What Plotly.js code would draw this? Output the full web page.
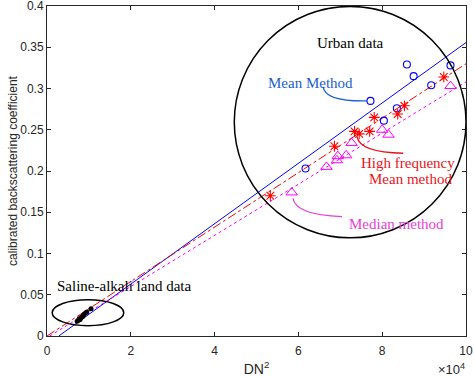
<!DOCTYPE html>
<html>
<head>
<meta charset="utf-8">
<script src="https://cdn.plot.ly/plotly-3.0.1.min.js"></script>
<style>html,body{margin:0;padding:0;background:#fff;}#chart{width:474px;height:377px;}</style>
</head>
<body>
<div id="chart"></div>
<script>
// x values are DN^2 in units of 10^4
var meanX = [8.59, 8.75, 9.63, 9.17, 7.72, 8.35, 8.04, 6.17];
var meanY = [0.329, 0.315, 0.328, 0.304, 0.285, 0.276, 0.261, 0.203];

var hfX = [9.47, 8.53, 8.37, 7.81, 7.70, 7.34, 7.45, 6.86, 5.33];
var hfY = [0.314, 0.279, 0.269, 0.265, 0.248, 0.248, 0.245, 0.230, 0.170];

var medX = [9.63, 8.00, 8.15, 7.27, 7.14, 6.94, 6.92, 6.67, 5.84];
var medY = [0.303, 0.250, 0.244, 0.234, 0.219, 0.218, 0.213, 0.205, 0.174];

var salX = [0.72, 0.75, 0.77, 0.79, 0.81, 0.83, 0.86, 0.88, 0.92, 0.95, 1.05];
var salY = [0.018, 0.019, 0.021, 0.020, 0.022, 0.023, 0.024, 0.026, 0.028, 0.029, 0.033];

// fitted lines: [slope, intercept]
var meanFit = [0.0366, -0.0103];
var hfFit = [0.0330, 0.0];
var medFit = [0.0310, -0.0020];

var xTicks = [0, 2, 4, 6, 8, 10];
var yTicks = [0, 0.05, 0.1, 0.15, 0.2, 0.25, 0.3, 0.35, 0.4];

function fitLine(f) {
  var x0 = Math.max(0, -f[1] / f[0]);
  var xs = [x0, 10];
  return {x: xs, y: xs.map(function (v) { return f[0] * v + f[1]; })};
}
var lm = fitLine(meanFit), lh = fitLine(hfFit), ld = fitLine(medFit);

var traces = [
  {x: lm.x, y: lm.y, mode: 'lines', line: {color: '#0000ff', width: 1}, hoverinfo: 'skip'},
  {x: lh.x, y: lh.y, mode: 'lines', line: {color: '#ff0000', width: 1, dash: 'dashdot'}, hoverinfo: 'skip'},
  {x: ld.x, y: ld.y, mode: 'lines', line: {color: '#ff00ff', width: 1, dash: 'dot'}, hoverinfo: 'skip'},
  {x: meanX, y: meanY, mode: 'markers', marker: {symbol: 'circle-open', size: 7, color: '#0000ff', line: {width: 1.1}}},
  {x: hfX, y: hfY, mode: 'markers', marker: {symbol: 'asterisk-open', size: 9, color: '#ff0000', line: {width: 1.1, color: '#ff0000'}}},
  {x: medX, y: medY, mode: 'markers', marker: {symbol: 'triangle-up-open', size: 10, color: '#ff00ff', line: {width: 1}}},
  {x: salX, y: salY, mode: 'markers', marker: {symbol: 'circle', size: 5, color: '#000000'}}
];

var serif = 'Liberation Serif, Times New Roman, serif';
var pw = 474 - 46.5 - 8, ph = 377 - 6 - 41;
var layout = {
  width: 474, height: 377,
  margin: {l: 46.5, r: 8, t: 6, b: 41},
  paper_bgcolor: '#fff', plot_bgcolor: '#fff',
  showlegend: false,
  font: {family: 'Liberation Sans, Arial, sans-serif', color: '#262626', size: 12},
  xaxis: {
    range: [0, 10], tickvals: xTicks, ticktext: xTicks.map(String),
    showgrid: false, zeroline: false, showline: true, linecolor: '#262626', linewidth: 1,
    mirror: 'ticks', ticks: 'inside', ticklen: 4, tickcolor: '#262626',
    ticklabeloverflow: 'allow', ticklabelstandoff: 4, tickfont: {size: 12, color: '#262626'},
    title: {text: 'DN<sup>2</sup>', font: {size: 14, color: '#262626'}, standoff: 6}
  },
  yaxis: {
    range: [0, 0.4], tickvals: yTicks, ticktext: yTicks.map(String),
    showgrid: false, zeroline: false, showline: true, linecolor: '#262626', linewidth: 1,
    mirror: 'ticks', ticks: 'inside', ticklen: 4, tickcolor: '#262626',
    ticklabeloverflow: 'allow', tickfont: {size: 12, color: '#262626'},
    title: {text: 'calibrated backscattering coefficient', font: {size: 12, color: '#262626'}, standoff: 0}
  },
  shapes: [
    {type: 'circle', xref: 'x', yref: 'y', x0: 4.47, x1: 10.0, y0: 0.119, y1: 0.3995, line: {color: '#000', width: 1.5}},
    {type: 'circle', xref: 'x', yref: 'y', x0: 0.124, x1: 1.832, y0: 0.0125, y1: 0.0439, line: {color: '#000', width: 1.5}},
    {type: 'path', xref: 'x', yref: 'y', path: 'M 6.59 0.302 Q 6.64 0.284 7.64 0.285', line: {color: '#1a5fd0', width: 1.3}},
    {type: 'path', xref: 'x', yref: 'y', path: 'M 7.40 0.2416 Q 7.46 0.2225 8.50 0.2215', line: {color: '#e8141c', width: 1.3}},
    {type: 'path', xref: 'x', yref: 'y', path: 'M 5.87 0.167 Q 5.93 0.1469 7.04 0.1448', line: {color: '#e83ed8', width: 1.3}}
  ],
  annotations: [
    {x: 7.24, y: 0.3547, xref: 'x', yref: 'y', text: 'Urban data', showarrow: false, font: {family: serif, size: 15, color: '#000'}},
    {x: 6.29, y: 0.307, xref: 'x', yref: 'y', text: 'Mean Method', showarrow: false, font: {family: serif, size: 15, color: '#1a5fd0'}},
    {x: 8.61, y: 0.210, xref: 'x', yref: 'y', text: 'High frequency', showarrow: false, font: {family: serif, size: 15, color: '#e8141c'}},
    {x: 8.67, y: 0.1901, xref: 'x', yref: 'y', text: 'Mean method', showarrow: false, font: {family: serif, size: 15, color: '#e8141c'}},
    {x: 8.35, y: 0.136, xref: 'x', yref: 'y', text: 'Median method', showarrow: false, font: {family: serif, size: 15, color: '#e83ed8'}},
    {x: 1.83, y: 0.0609, xref: 'x', yref: 'y', text: 'Saline-alkali land data', showarrow: false, font: {family: serif, size: 15, color: '#000'}},
    {xref: 'paper', yref: 'paper', x: (451.7 - 46.5) / pw, y: (377 - 41 - 369) / ph, xanchor: 'center', yanchor: 'middle',
      text: '\u00d710<sup>4</sup>', showarrow: false, font: {size: 13, color: '#262626'}}
  ]
};

Plotly.newPlot('chart', traces, layout, {displayModeBar: false, staticPlot: true});
</script>
</body>
</html>
